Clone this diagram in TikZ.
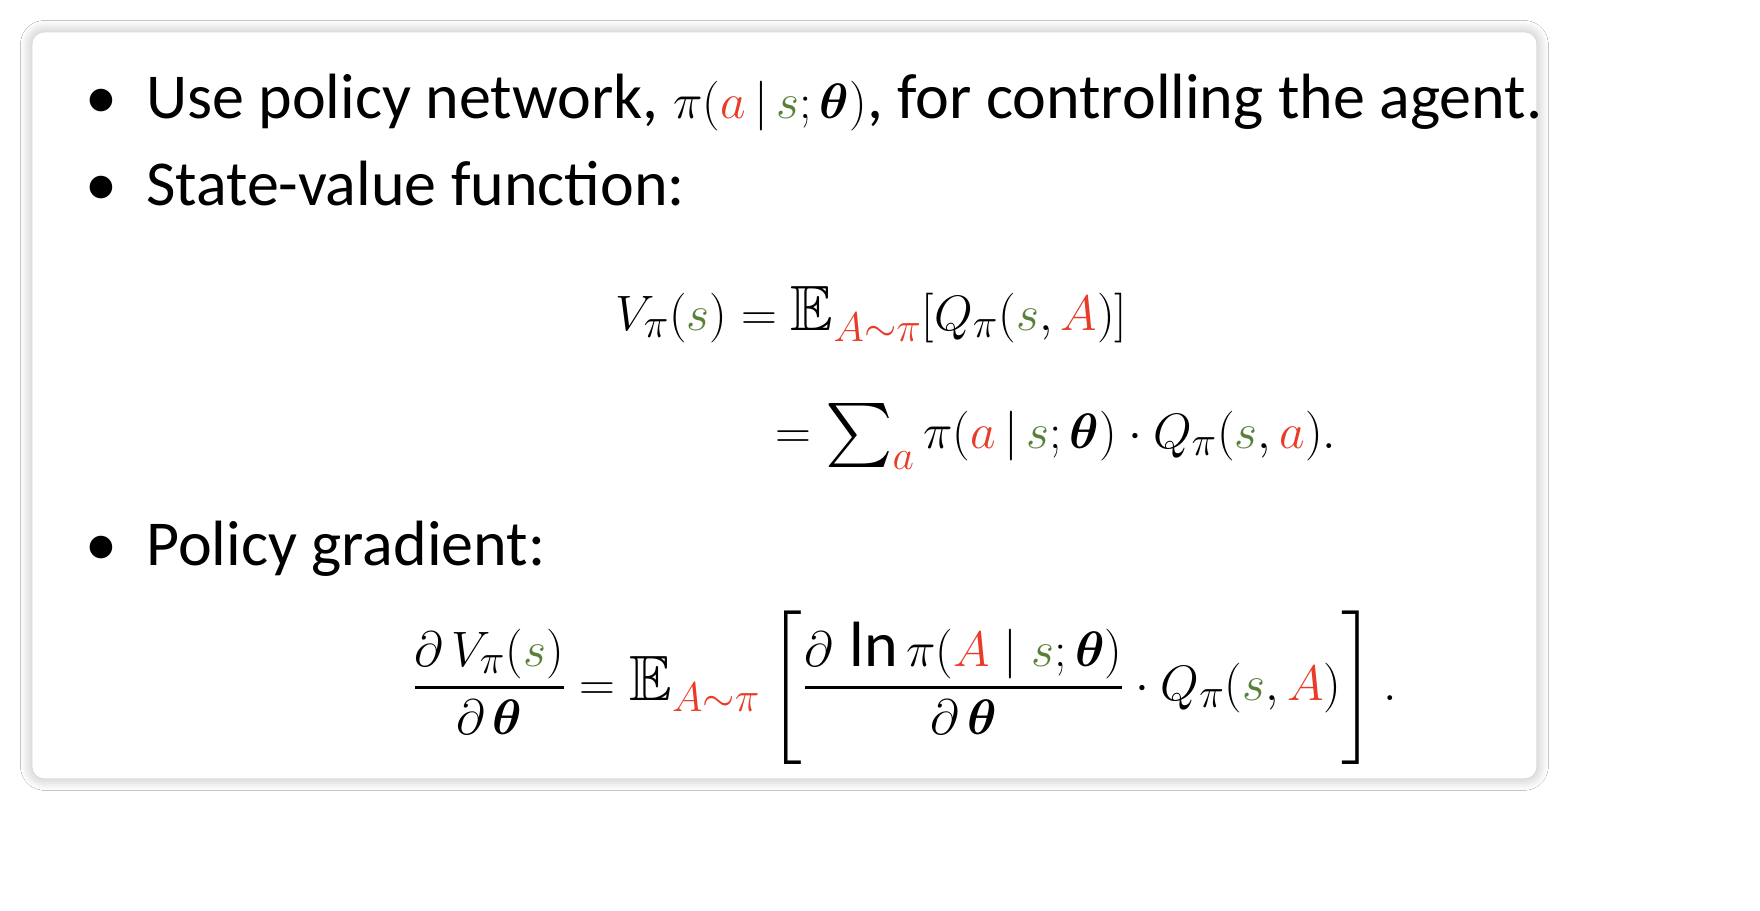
\documentclass[tikz,border=0pt]{standalone}
\usepackage{amsmath,amssymb,bm}
\usepackage{fontspec}
\setmainfont{Carlito}
\usetikzlibrary{shadows.blur}
\definecolor{rd}{RGB}{232,60,40}
\definecolor{gn}{RGB}{88,128,58}
\newcommand{\ra}{\color{rd}}
\newcommand{\gs}{{\color{gn}s}}
\tikzset{txt/.style={anchor=base west,inner sep=0pt,font=\fontsize{32}{38}\selectfont},
 card/.style={fill=white,rounded corners=6pt,blur shadow={shadow blur steps=8,shadow xshift=0pt,shadow yshift=0pt,shadow blur radius=6pt,shadow opacity=30}}}
\begin{document}
\begin{tikzpicture}[x=0.5pt,y=-0.5pt]
\fill[white] (0,0) rectangle (1760,910);
\node[card,minimum width=752pt,minimum height=373pt,anchor=north west,inner sep=0pt] (card) at (32,32) {};
\node[txt] (b1) at (85,118) {\textbullet\ \ Use policy network, $\pi(\ra a\,\color{black}|\,\gs;\bm{\theta})$, for controlling the agent.};
\node[txt] (b2) at (85,205) {\textbullet\ \ State-value function:};
\node[txt] (e1) at (615,330) {$V_\pi(\gs) = \mathbb{E}_{\ra A\sim\pi}[Q_\pi(\gs,{\ra A})]$};
\node[txt] (e2) at (775,448) {$=\sum_{\ra a}\pi({\ra a}\,|\,\gs;\bm{\theta})\cdot Q_\pi(\gs,{\ra a}).$};
\node[txt] (b3) at (85,565) {\textbullet\ \ Policy gradient:};
\node[txt] (e3) at (412,700) {$\dfrac{\partial\, V_\pi(\gs)}{\partial\,\bm{\theta}} = \mathbb{E}_{\ra A\sim\pi}\left[\dfrac{\partial\,\ln\pi({\ra A}\mid \gs;\bm{\theta})}{\partial\,\bm{\theta}}\cdot Q_\pi(\gs,{\ra A})\right].$};
\pgfresetboundingbox
\useasboundingbox (0,0) rectangle (1760,910);
\end{tikzpicture}
\end{document}
